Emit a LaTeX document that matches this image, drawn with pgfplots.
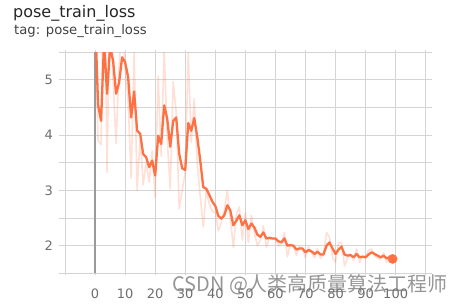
\documentclass[border=0pt]{standalone}
\usepackage{pgfplots}
\pgfplotsset{compat=1.18}
\usepackage{pgfplotstable}
\usepackage{fontspec}
\setmainfont{DejaVu Sans}
\newfontfamily\cjk{Noto Sans CJK SC}
\definecolor{tbor}{HTML}{FF7043}
\definecolor{gridc}{HTML}{D4D4D4}
\definecolor{tickc}{HTML}{6E6E6E}
\definecolor{zeroc}{HTML}{9A9A9A}

\pgfplotstableread{
x raw sm
0 6.20 6.20
1 3.90 4.55
2 3.83 4.26
3 7.86 5.70
4 3.33 4.75
5 6.88 5.60
6 4.98 5.35
7 3.85 4.75
8 5.25 4.95
9 6.10 5.41
10 5.19 5.32
11 4.65 5.05
12 3.22 4.32
13 5.50 4.79
14 3.00 4.08
15 3.96 4.03
16 3.10 3.66
17 3.51 3.60
18 3.15 3.42
19 3.72 3.54
20 2.87 3.27
21 5.07 3.99
22 3.62 3.84
23 5.59 4.54
24 3.94 4.30
25 3.03 3.79
26 4.97 4.26
27 4.41 4.32
28 2.67 3.66
29 3.01 3.40
30 3.33 3.37
31 5.50 4.22
32 3.87 4.08
33 4.66 4.31
34 3.46 3.97
35 2.90 3.54
36 2.34 3.06
37 2.99 3.03
38 2.76 2.92
39 2.62 2.80
40 2.60 2.72
41 2.27 2.54
42 2.42 2.49
43 2.64 2.55
44 3.00 2.73
45 2.50 2.64
46 1.97 2.37
47 2.57 2.45
48 2.70 2.55
49 2.10 2.37
50 2.60 2.46
51 2.06 2.30
52 2.55 2.40
53 2.23 2.33
54 2.00 2.20
55 2.10 2.16
56 2.36 2.24
57 1.97 2.13
58 2.16 2.14
59 2.12 2.13
60 2.13 2.13
61 2.00 2.08
62 2.03 2.06
63 2.24 2.13
64 1.80 2.00
65 2.03 2.01
66 1.99 2.00
67 1.83 1.93
68 1.98 1.95
69 1.95 1.95
70 1.78 1.88
71 1.98 1.92
72 1.87 1.90
73 1.78 1.85
74 1.95 1.89
75 1.77 1.84
76 1.84 1.84
77 2.24 2.00
78 2.15 2.06
79 1.79 1.95
80 1.70 1.85
81 2.05 1.93
82 2.06 1.98
83 1.63 1.84
84 1.79 1.82
85 1.85 1.83
86 1.73 1.79
87 1.94 1.85
88 1.70 1.79
89 1.82 1.80
90 1.78 1.79
91 1.92 1.84
92 1.94 1.88
93 1.81 1.85
94 1.78 1.82
95 1.75 1.79
96 1.87 1.82
97 1.70 1.77
98 1.82 1.79
99 1.72 1.76
}\losstable

\begin{document}
\begin{tikzpicture}[x=1pt,y=1pt]
\useasboundingbox (0,0) rectangle (458,305);
\node[anchor=base west, inner sep=0, font=\fontsize{16}{18}\selectfont, text=black!85] at (13,287.7) {pose\_train\_loss};
\node[anchor=base west, inner sep=0, font=\fontsize{13.2}{15}\selectfont, text=black!75] at (14,270) {tag: pose\_train\_loss};
\begin{axis}[
  at={(65pt,31.7pt)}, anchor=south west,
  scale only axis, width=360.7pt, height=221pt,
  xmin=-10, xmax=110, ymin=1.5, ymax=5.5,
  axis line style={draw=none},
  xtick={-10,0,...,110},
  xticklabels={,0,10,20,30,40,50,60,70,80,90,100,},
  ytick={1.5,2,...,5.5},
  yticklabels={,2,,3,,4,,5,},
  grid=major,
  grid style={color=gridc, line width=0.9pt},
  tick align=outside,
  major tick length=6pt,
  tick style={color=gridc, line width=0.9pt},
  xtick style={/pgfplots/major tick length=2pt},
  extra x ticks={0}, extra x tick labels={},
  extra x tick style={grid style={color=zeroc, line width=1.6pt}, tick style={draw=none}},
  ticklabel style={font=\fontsize{13}{15}\selectfont, text=tickc},
  /pgf/number format/assume math mode=true,
  yticklabel style={xshift=-2.5pt},
  xticklabel style={yshift=-6pt},
]
\addplot[tbor, opacity=0.22, line width=1.6pt, line join=round] table[x=x, y=raw] {\losstable};
\addplot[tbor, line width=2.3pt, line join=round] table[x=x, y=sm] {\losstable};
\addplot[only marks, mark=*, mark size=4.6pt, color=tbor] coordinates {(99,1.76)};
\end{axis}
\node[anchor=base west, inner sep=0, font=\cjk\fontsize{20}{22}\selectfont, text=black!55, opacity=0.75] at (172,13) {CSDN @人类高质量算法工程师};
\end{tikzpicture}
\end{document}
